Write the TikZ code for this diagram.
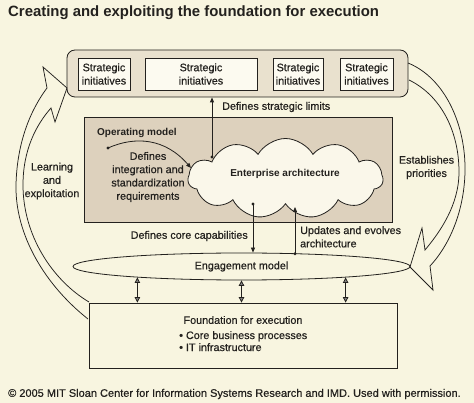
\documentclass[tikz,border=0pt]{standalone}
\usepackage{fontspec}
\setmainfont{Liberation Sans}
\newfontfamily\medfont{Liberation Sans}[FakeBold=0.5]
\usetikzlibrary{arrows.meta,shapes.geometric,shapes.symbols}
\definecolor{bg}{RGB}{248,245,224}
\definecolor{tanfill}{RGB}{221,209,189}
\definecolor{topfill}{RGB}{233,225,206}
\definecolor{boxfill}{RGB}{252,250,240}
\definecolor{cloudfill}{RGB}{250,247,234}
\definecolor{ink}{RGB}{35,33,30}
\tikzset{
  lbl/.style={font=\medfont\fontsize{10.8}{13.3}\selectfont, align=center, inner sep=0pt, text=ink},
  hdr/.style={font=\bfseries\fontsize{10}{12}\selectfont, inner sep=0pt, text=ink},
  sbox/.style={draw=ink, fill=boxfill, minimum height=32pt, inner sep=0pt, align=center,
    font=\medfont\fontsize{10.8}{13.3}\selectfont, text=ink},
  dotmark/.style={circle, fill=ink, inner sep=0pt, minimum size=3.2pt},
  arr/.style={draw=ink, line width=0.8pt, -{Triangle[length=5pt,width=4pt]}},
  darr/.style={draw=ink, line width=0.8pt,
    {Triangle[length=5.5pt,width=5.5pt,fill=ink!55]}-{Triangle[length=5.5pt,width=5.5pt,fill=ink!55]}},
  band/.style={draw=ink, line width=0.75pt, line join=miter}
}
\begin{document}
\begin{tikzpicture}[x=1pt,y=-1pt]
\fill[bg] (0,0) rectangle (474,403);
\useasboundingbox (0,0) rectangle (474,403);

% title
\node[anchor=west, font=\bfseries\fontsize{14.9}{17}\selectfont, inner sep=0pt, text=ink] (title) at (8,13)
  {Creating and exploiting the foundation for execution};

% top box with strategic initiatives
\node[draw=ink, line width=0.8pt, fill=topfill, rounded corners=8pt, minimum width=341pt, minimum height=47pt, inner sep=0pt] (top) at (237.5,73.5) {};
\node[sbox, minimum width=52pt] (s1) at (104,74) {Strategic\\initiatives};
\node[sbox, minimum width=112pt] (s2) at (201,74) {Strategic\\initiatives};
\node[sbox, minimum width=50pt] (s3) at (298,74) {Strategic\\initiatives};
\node[sbox, minimum width=53pt] (s4) at (366.5,74) {Strategic\\initiatives};

% operating model box
\node[draw=ink, line width=0.8pt, fill=tanfill, minimum width=308pt, minimum height=105pt, inner sep=0pt] (om) at (238,169.5) {};
\node[hdr, anchor=west] (omlabel) at (97,133) {Operating model};

% cloud
\node[cloud, draw=ink, line width=0.8pt, fill=cloudfill, cloud puffs=11, cloud puff arc=120, cloud ignores aspect,
  minimum width=195pt, minimum height=80pt, inner sep=0pt] (ea) at (285.5,178.5) {};
\node[hdr] (eatext) at (285,174) {Enterprise architecture};

% curved arrow from operating model to cloud
\node[dotmark] (p0) at (108,148) {};
\coordinate (p1) at (191,168);
\draw[arr] (p0.center) .. controls (135,136) and (165,138) .. (p1);
\node[lbl] (deflab) at (148,177) {Defines\\integration and\\standardization\\requirements};

% defines strategic limits
\node[dotmark] (d1) at (212,157) {};
\draw[arr] (d1.center) -- (d1.center |- top.south);
\node[lbl, anchor=west] (limlab) at (222,107) {Defines strategic limits};

% engagement model
\node[ellipse, draw=ink, line width=0.8pt, fill=bg, minimum width=337pt, minimum height=27pt, inner sep=0pt,
  font=\medfont\fontsize{10.8}{13.3}\selectfont, text=ink] (eng) at (241.5,266.5) {Engagement model};

% defines core capabilities
\node[dotmark] (d2) at (253,204) {};
\draw[arr] (d2.center) -- (d2.center |- eng.north);
\node[lbl, anchor=east] (corelab) at (248,236) {Defines core capabilities};

% updates and evolves architecture
\node[dotmark] (d3) at (295,253.7) {};
\coordinate (u3) at (295,207);
\draw[arr] (d3.center) -- (u3);
\node[lbl, anchor=north west, align=left] (updlab) at (300,226) {Updates and evolves\\architecture};

% foundation for execution
\node[draw=ink, line width=0.8pt, fill=bg, minimum width=308pt, minimum height=65pt, inner sep=0pt] (found) at (243,335.5) {};
\node[lbl] (foundhdr) at (243,320) {Foundation for execution};
\node[lbl, anchor=north west, align=left, font=\medfont\fontsize{10.8}{12}\selectfont] (foundlist) at (179,331)
  {• Core business processes\\• IT infrastructure};

% double arrows
\draw[darr] (eng.186.4) -- (eng.186.4 |- found.north);
\draw[darr] (eng.270) -- (eng.270 |- found.north);
\draw[darr] (eng.354.2) -- (eng.354.2 |- found.north);

% left big hollow arrow: learning and exploitation
\draw[band] (88,319) .. controls (45,285) and (15,235) .. (16,185)
  .. controls (17,140) and (32,108) .. (47,88) -- (43,67) -- (67,88) -- (55,122) -- (51,108)
  .. controls (36,125) and (23,150) .. (23,185)
  .. controls (23,235) and (52,280) .. (89,302);
\node[lbl] (learn) at (52,181) {Learning\\and\\exploitation};

% right big hollow arrow: establishes priorities
\draw[band] (408,63) .. controls (445,78) and (466,125) .. (465,172)
  .. controls (464,215) and (447,248) .. (430,266) -- (433,290) -- (410,267) -- (422,228) -- (425,250)
  .. controls (440,232) and (459,205) .. (459,172)
  .. controls (459,130) and (440,95) .. (409,80);
\node[lbl] (estab) at (426.5,167.5) {Establishes\\priorities};

% copyright
\node[anchor=west, font=\medfont\fontsize{11}{13}\selectfont, inner sep=0pt, text=ink] (copy) at (8,394)
  {© 2005 MIT Sloan Center for Information Systems Research and IMD. Used with permission.};
\end{tikzpicture}
\end{document}
